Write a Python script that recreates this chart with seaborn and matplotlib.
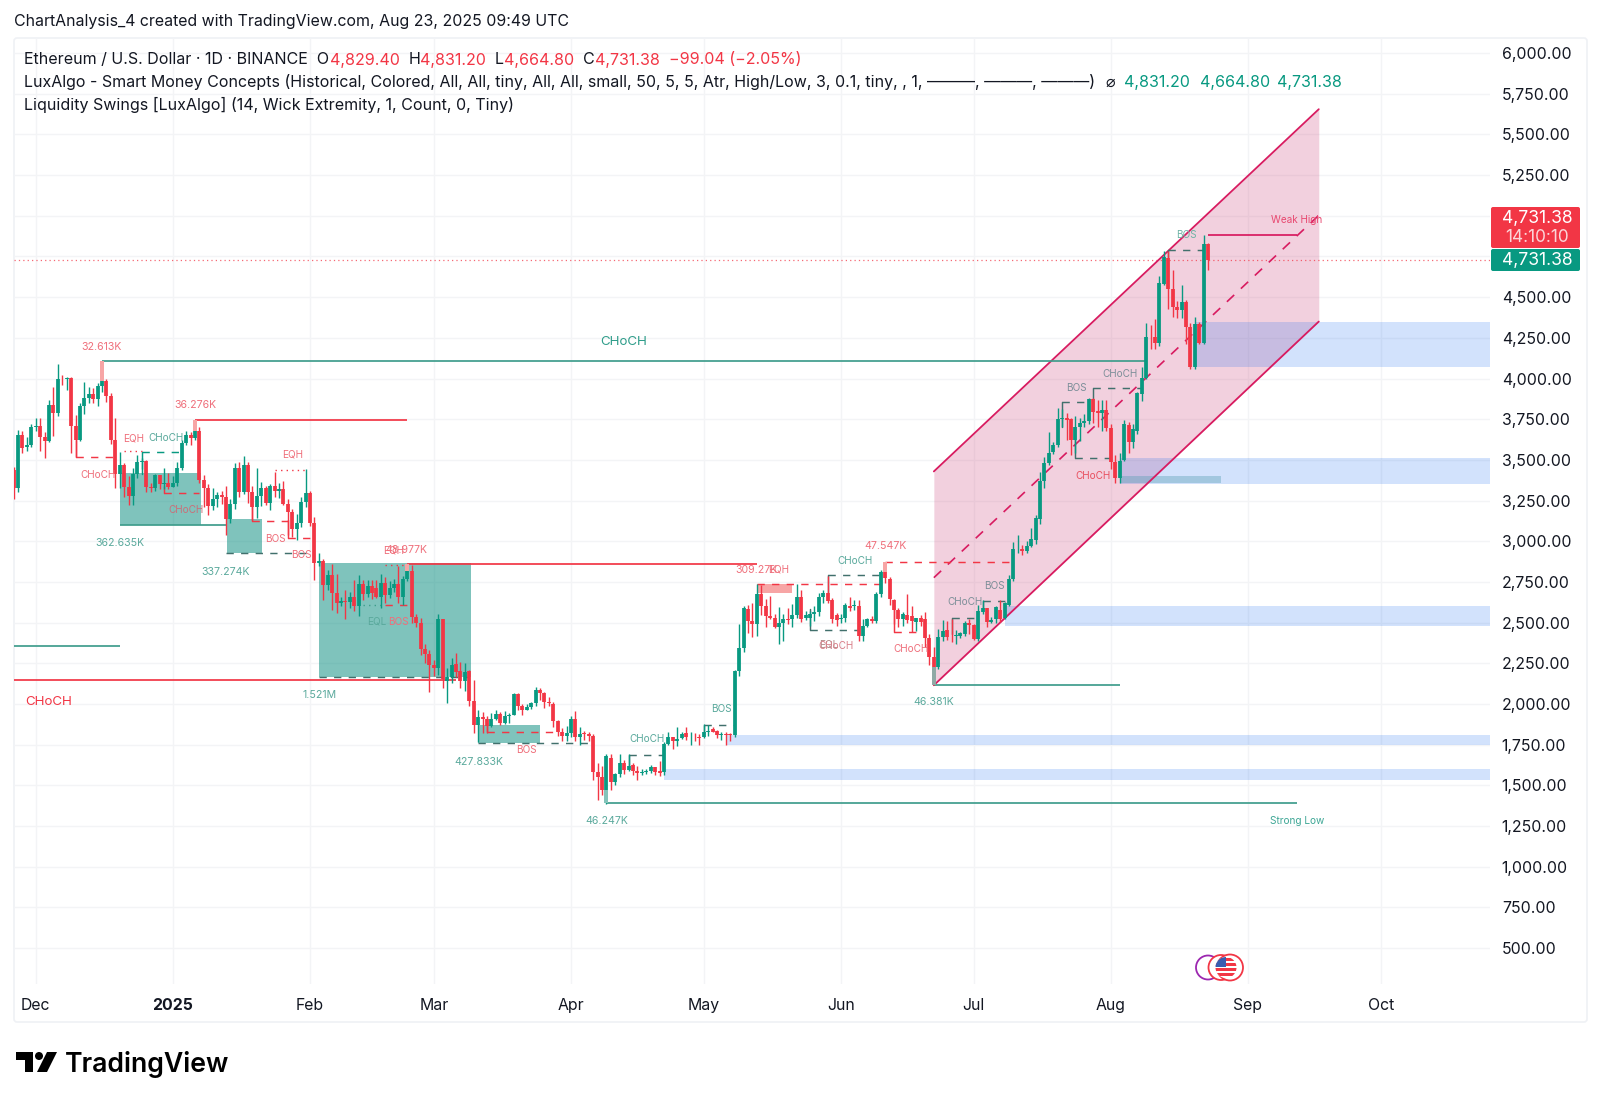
import pandas as pd
import seaborn as sns
import matplotlib.pyplot as plt
from matplotlib.patches import Rectangle, Circle, FancyBboxPatch, Polygon

# Daily candles: open, high, low, close
nov = [(3440,3455,3260,3325),(3325,3683,3300,3650),(3650,3680,3540,3575),(3580,3640,3555,3590),(3590,3720,3580,3700)]
dec = [(3700,3760,3680,3710),(3710,3755,3555,3640),(3640,3670,3510,3615),(3615,3870,3610,3835),(3835,3945,3645,3785),
       (3785,4090,3770,4000),(4000,4020,3960,3995),(3995,4010,3930,4005),(4005,4010,3540,3710),(3710,3775,3517,3625),
       (3625,3850,3615,3830),(3830,3980,3780,3880),(3880,3950,3850,3905),(3905,3940,3850,3875),(3875,3970,3830,3955),
       (3955,4107,3920,3985),(3985,4000,3855,3890),(3890,3910,3600,3625),(3625,3757,3330,3415),(3415,3550,3330,3468),
       (3468,3480,3270,3333),(3333,3400,3222,3277),(3277,3450,3220,3412),(3412,3530,3390,3487),(3487,3510,3445,3495),
       (3495,3500,3300,3335),(3335,3360,3300,3330),(3330,3415,3310,3405),(3405,3410,3320,3350),(3350,3450,3320,3360),
       (3360,3420,3320,3335)]
jan = [(3335,3400,3335,3355),(3355,3490,3340,3450),(3450,3620,3440,3603),(3603,3680,3590,3650),(3650,3670,3590,3635),
       (3635,3745,3620,3680),(3680,3700,3360,3378),(3378,3410,3210,3327),(3327,3350,3160,3218),(3218,3325,3190,3262),
       (3262,3300,3210,3285),(3285,3310,3230,3270),(3270,3340,3040,3135),(3135,3260,3115,3228),(3228,3480,3200,3450),
       (3450,3490,3272,3303),(3303,3525,3290,3468),(3468,3490,3235,3303),(3303,3340,3130,3210),(3210,3450,3140,3275),
       (3275,3365,3215,3327),(3327,3340,3225,3235),(3235,3350,3190,3340),(3340,3425,3270,3308),(3308,3360,3265,3318),
       (3318,3370,3225,3228),(3228,3260,3040,3180),(3180,3200,3025,3075),(3075,3165,3010,3110),(3110,3270,3090,3243),
       (3243,3443,3210,3295)]
feb = [(3295,3310,3095,3110),(3110,3150,2760,2868),(2868,2925,2850,2880),(2880,2890,2640,2730),(2730,2825,2700,2790),
       (2790,2860,2580,2680),(2680,2800,2560,2620),(2620,2660,2600,2635),(2635,2700,2520,2625),(2625,2690,2590,2660),
       (2660,2760,2570,2600),(2600,2790,2540,2735),(2735,2760,2640,2675),(2675,2760,2660,2725),(2725,2760,2645,2680),
       (2715,2760,2650,2660),(2660,2800,2590,2745),(2745,2780,2620,2670),(2670,2755,2650,2715),(2715,2770,2690,2740),
       (2740,2850,2620,2660),(2660,2785,2610,2770),(2770,2850,2755,2820),(2820,2855,2495,2535),(2535,2550,2470,2495),
       (2495,2530,2300,2340),(2340,2370,2250,2305),(2305,2330,2075,2240)]
mar = [(2240,2270,2170,2220),(2220,2550,2175,2520),(2520,2525,2095,2155),(2140,2220,2005,2165),(2165,2285,2130,2240),
       (2245,2315,2165,2195),(2200,2260,2100,2140),(2140,2250,2080,2195),(2205,2210,1990,2020),(2020,2150,1820,1870),
       (1870,1965,1765,1920),(1920,1950,1820,1908),(1908,1925,1820,1865),(1865,1945,1860,1905),(1910,1960,1900,1940),
       (1940,1950,1870,1885),(1885,1955,1875,1925),(1925,1945,1885,1932),(1935,2065,1930,2060),(2060,2070,1960,1985),
       (1985,2000,1930,1965),(1965,2000,1965,1980),(1980,2010,1970,2005),(2005,2105,1990,2085),(2085,2095,2025,2065),
       (2065,2075,1975,2010),(2010,2040,1985,2005),(2000,2015,1860,1895),(1895,1900,1805,1825),(1825,1850,1770,1805),
       (1805,1865,1770,1820)]
apr = [(1820,1925,1800,1905),(1905,1955,1775,1795),(1795,1860,1750,1815),(1820,1835,1780,1815),(1815,1830,1770,1805),
       (1805,1815,1535,1580),(1580,1640,1410,1550),(1550,1620,1440,1470),(1470,1690,1385,1680),(1670,1690,1470,1520),
       (1520,1575,1505,1570),(1570,1690,1550,1640),(1640,1655,1570,1595),(1595,1690,1590,1620),(1625,1640,1565,1585),
       (1585,1620,1535,1575),(1575,1600,1565,1583),(1583,1600,1570,1587),(1587,1625,1575,1610),(1610,1615,1565,1580),
       (1585,1650,1560,1578),(1580,1765,1565,1755),(1755,1830,1745,1795),(1795,1800,1725,1770),(1770,1860,1740,1785),
       (1790,1830,1785,1815),(1820,1860,1780,1795),(1795,1830,1745,1798),(1800,1820,1770,1795),(1797,1815,1750,1793)]
may = [(1795,1875,1790,1830),(1830,1870,1805,1835),(1845,1860,1825,1825),(1835,1840,1790,1810),(1810,1830,1780,1815),
       (1815,1830,1750,1810),(1815,1820,1775,1810),(1810,2210,1800,2205),(2205,2490,2170,2345),(2345,2600,2320,2590),
       (2585,2610,2435,2510),(2510,2620,2410,2490),(2490,2735,2420,2675),(2675,2730,2545,2600),(2600,2645,2470,2540),
       (2540,2665,2525,2530),(2530,2555,2465,2475),(2475,2595,2370,2495),(2495,2550,2385,2520),(2525,2590,2490,2515),
       (2520,2615,2470,2545),(2545,2735,2530,2655),(2655,2700,2505,2520),(2530,2570,2515,2545),(2530,2570,2480,2550),
       (2550,2600,2510,2565),(2565,2680,2540,2660),(2660,2700,2620,2680),(2680,2785,2620,2630),(2640,2650,2500,2520),
       (2545,2560,2480,2515)]
jun = [(2522,2550,2495,2530),(2530,2620,2505,2610),(2600,2655,2570,2590),(2600,2640,2580,2610),(2600,2640,2385,2415),
       (2420,2525,2385,2480),(2480,2530,2475,2520),(2520,2540,2495,2510),(2510,2690,2495,2675),(2675,2825,2660,2810),
       (2810,2875,2745,2775),(2770,2780,2610,2645),(2640,2645,2490,2575),(2575,2590,2475,2525),(2525,2565,2480,2550),
       (2545,2675,2495,2515),(2540,2600,2445,2510),(2505,2530,2450,2530),(2530,2545,2480,2505),(2520,2565,2350,2405),
       (2405,2430,2240,2290),(2290,2350,2115,2225),(2225,2460,2215,2410),(2410,2515,2385,2450),(2455,2510,2395,2410),
       (2420,2520,2380,2415),(2415,2455,2370,2425),(2415,2440,2405,2435),(2430,2510,2420,2495),(2495,2520,2430,2485)]
jul = [(2485,2490,2395,2400),(2400,2610,2385,2570),(2565,2640,2555,2590),(2590,2590,2475,2505),(2505,2535,2495,2515),
       (2520,2600,2500,2595),(2580,2640,2505,2520),(2530,2625,2520,2620),(2610,2795,2600,2770),(2770,2995,2755,2950),
       (2950,3040,2925,2955),(2955,2975,2915,2940),(2942,3000,2930,2970),(2970,3080,2965,3011),(3007,3160,2980,3140),
       (3134,3423,3105,3370),(3370,3520,3325,3478),(3478,3673,3470,3544),(3550,3610,3535,3591),(3591,3817,3581,3751),
       (3750,3815,3705,3760),(3760,3790,3625,3748),(3750,3760,3530,3625),(3622,3770,3540,3704),(3704,3760,3615,3724),
       (3724,3780,3700,3741),(3739,3880,3720,3872),(3872,3880,3724,3796),(3800,3870,3700,3790),(3790,3870,3680,3806),
       (3806,3870,3680,3694)]
aug = [(3694,3720,3445,3489),(3489,3530,3355,3386),(3386,3545,3355,3495),(3499,3745,3495,3720),(3714,3730,3545,3612),
       (3612,3720,3575,3687),(3680,3920,3660,3909),(3905,4073,3860,4005),(4005,4340,4000,4257),(4258,4329,4180,4255),
       (4253,4363,4180,4220),(4220,4630,4200,4585),(4580,4785,4575,4745),(4738,4785,4430,4548),(4548,4667,4380,4437),
       (4437,4475,4370,4421),(4421,4575,4370,4472),(4472,4480,4210,4314),(4314,4340,4060,4073),(4073,4380,4060,4335),
       (4335,4350,4210,4216),(4216,4882,4210,4827),(4829.40,4831.20,4664.80,4731.38)]

# axis ticks, day 0 is Dec 1
month_days = [0, 31, 62, 90, 121, 151, 182, 212, 243, 274, 304]
month_labels = ['Dec', '2025', 'Feb', 'Mar', 'Apr', 'May', 'Jun', 'Jul', 'Aug', 'Sep', 'Oct']
price_ticks = list(range(500, 6001, 250))

# channel: first day, last day, low/mid/high price on both ends
channel_days = [203, 290]
channel_low = [2115, 4350]
channel_mid = [2776, 5003]
channel_high = [3429, 5655]

# day from, price low, price high (all run out to the right edge)
blue_zones = [(262, 4068, 4350), (245, 3350, 3510), (219, 2480, 2600), (156, 1750, 1810), (142, 1530, 1600)]
# day from, day to, price low, price high
green_boxes = [(19, 37.4, 3098, 3417), (43.3, 51.1, 2928, 3136), (64, 98.4, 2165, 2866), (100, 114, 1760, 1870)]
wick_marks = [(15, 3985, 4105, '#f7a5a5'), (36, 3680, 3745, '#f7a5a5'), (84, 2820, 2858, '#f7a5a5'),
              (192, 2810, 2875, '#f7a5a5'), (129, 1390, 1470, '#84c4ba'), (203, 2115, 2225, '#8fa9a5')]

RED = '#f23645'
GREEN = '#089981'
TEAL = '#3f9d8c'
DARK = '#41706c'
CRIMSON = '#d81b60'

# solid levels: day from, day to, price, colour
levels = [(15, 251, 4105, TEAL), (-5, 19, 2358, TEAL), (19, 43, 3098, TEAL), (-5, 95, 2150, RED), (36, 84, 3742, RED),
          (84, 163, 2858, RED), (203, 245, 2115, TEAL), (129, 285, 1390, TEAL), (265, 285, 4884, CRIMSON)]
# dashed structure breaks
breaks = [(9, 18, 3520, RED), (24, 33, 3548, GREEN), (29, 37, 3298, RED), (49, 57, 3126, RED), (57, 62, 3020, RED),
          (43, 61, 2928, DARK), (79, 84, 2608, RED), (64, 98, 2165, DARK), (102, 117, 1830, RED), (100, 125, 1760, DARK),
          (134, 142, 1685, DARK), (151, 158, 1870, DARK), (163, 191, 2735, RED), (179, 191, 2790, DARK),
          (175, 186, 2455, DARK), (194, 199, 2440, RED), (192, 220, 2875, RED), (207, 212, 2530, DARK),
          (214, 219, 2635, DARK), (232, 238, 3857, DARK), (239, 250, 3941, DARK), (235, 243, 3513, DARK), (256, 265, 4790, DARK)]
# dotted equal highs / lows
dots = [(20, 24, 3552, RED), (54, 61, 3437, RED), (79, 84, 2855, RED), (74, 79, 2608, TEAL)]
# short uprights at the start of a break: day, price from, price to, colour
brackets = [(9, 3520, 3620, RED), (24, 3548, 3415, GREEN), (29, 3298, 3340, RED), (49, 3126, 3300, RED),
            (57, 3020, 3130, RED), (102, 1830, 1880, RED), (134, 1685, 1620, DARK), (151, 1870, 1820, DARK),
            (179, 2790, 2680, DARK), (175, 2455, 2585, DARK), (194, 2440, 2610, RED), (207, 2530, 2430, DARK),
            (214, 2635, 2580, DARK), (232, 3857, 3700, DARK), (239, 3941, 3800, DARK), (235, 3513, 3700, DARK),
            (256, 4790, 4740, DARK)]

PINK = '#ef6f7b'
MINT = '#5aa99c'
GREY = '#7d8f99'
# text, day, price, colour, font size
labels = [('32.613K', 15, 4192, PINK, 7.6), ('36.276K', 36, 3835, PINK, 7.6), ('362.635K', 19.1, 2988, MINT, 7.6),
          ('337.274K', 42.9, 2812, MINT, 7.6), ('1.521M', 64.1, 2053, MINT, 7.6), ('427.833K', 100.1, 1646, MINT, 7.6),
          ('46.247K', 129, 1282, MINT, 7.6), ('46.381K', 203, 2010, MINT, 7.6), ('47.547K', 192, 2969, PINK, 7.6),
          ('309.27K', 162.9, 2825, PINK, 7.6), ('EQH', 168, 2825, PINK, 7.2), ('48.977K', 83.7, 2944, PINK, 7.6),
          ('EQH', 81, 2944, PINK, 7.2), ('EQL', 77, 2505, MINT, 7.2), ('BOS', 82.1, 2505, PINK, 7.2),
          ('EQH', 22.1, 3634, PINK, 7.2), ('CHoCH', 29.5, 3634, MINT, 7.2), ('CHoCH', 14.1, 3408, PINK, 7.2),
          ('CHoCH', 33.9, 3189, '#c9707a', 7.2), ('EQH', 58.1, 3534, PINK, 7.2), ('BOS', 54.2, 3013, PINK, 7.2),
          ('BOS', 60, 2913, PINK, 7.2), ('BOS', 111, 1715, PINK, 7.2), ('BOS', 155, 1966, MINT, 7.2),
          ('CHoCH', 138.2, 1784, MINT, 7.2), ('EQL', 179.2, 2367, '#b08a88', 7.2), ('CHoCH', 180.9, 2355, '#d9808a', 7.2),
          ('CHoCH', 185.2, 2881, MINT, 7.2), ('CHoCH', 197.9, 2336, PINK, 7.2), ('CHoCH', 210.1, 2624, GREY, 7.2),
          ('BOS', 216.8, 2725, GREY, 7.2), ('BOS', 235.3, 3941, GREY, 7.2), ('CHoCH', 245, 4029, GREY, 7.2),
          ('CHoCH', 239, 3402, '#e8505f', 7.2), ('BOS', 260, 4882, '#6fb3a6', 7.2), ('Weak High', 285.1, 4976, '#e8476f', 7.2),
          ('Strong Low', 285.1, 1282, '#3fa796', 7.3), ('CHoCH', 132.9, 4223, '#2f9d8a', 9.6), ('CHoCH', 3, 2010, RED, 9.6)]

sns.set_theme(style='white')
plt.rcParams['font.family'] = ['Inter', 'DejaVu Sans']

candles = pd.DataFrame(nov + dec + jan + feb + mar + apr + may + jun + jul + aug,
                       columns=['open', 'high', 'low', 'close'])
candles['day'] = range(-5, len(candles) - 5)
candles['side'] = ['up' if c >= o else 'down' for o, c in zip(candles['open'], candles['close'])]

wicks = candles.melt(id_vars=['day', 'side'], value_vars=['high', 'low'], value_name='price')
bodies = candles.melt(id_vars=['day', 'side'], value_vars=['open', 'close'], value_name='price')

fig = plt.figure(figsize=(16, 11.02), dpi=100, facecolor='white')
W, H = 1600, 1102
ax = fig.add_axes([14 / W, 1 - 984 / H, (1490 - 14) / W, (984 - 38) / H], facecolor='none', zorder=2)

# candles
palette = {'up': GREEN, 'down': RED}
sns.lineplot(data=wicks, x='day', y='price', units='day', hue='side', palette=palette, estimator=None,
             sort=False, legend=False, linewidth=1.0, solid_capstyle='butt', zorder=5, ax=ax)
sns.lineplot(data=bodies, x='day', y='price', units='day', hue='side', palette=palette, estimator=None,
             sort=False, legend=False, linewidth=2.7, solid_capstyle='butt', zorder=5, ax=ax)

# channel
ax.fill_between(channel_days, channel_low, channel_high, color='#c2185b', alpha=0.2, lw=0, zorder=1)
ax.plot(channel_days, channel_low, color=CRIMSON, lw=1.3, zorder=4)
ax.plot(channel_days, channel_high, color=CRIMSON, lw=1.3, zorder=4)
ax.plot(channel_days, channel_mid, color=CRIMSON, lw=1.2, ls=(0, (6, 5.5)), zorder=4)

for start, low, high in blue_zones:
    ax.fill_between([start, 328.7], low, high, color='#1e6ff0', alpha=0.2, lw=0, zorder=1)
ax.fill_between([245, 268], 3360, 3400, color='#5b9fb5', alpha=0.4, lw=0, zorder=2)
for start, end, low, high in green_boxes:
    ax.fill_between([start, end], low, high, color='#00897b', alpha=0.5, lw=0, zorder=1)
ax.fill_between([163, 171], 2680, 2735, color='#f7a5a5', lw=0, zorder=3)
for day, low, high, colour in wick_marks:
    ax.fill_between([day - 0.45, day + 0.45], low, high, color=colour, lw=0, zorder=6)

for start, end, price, colour in levels:
    ax.plot([start, end], [price, price], color=colour, lw=1.25, solid_capstyle='butt', zorder=4)
for start, end, price, colour in breaks:
    ax.plot([start, end], [price, price], color=colour, lw=1.05, ls=(0, (5, 5)), zorder=4)
for start, end, price, colour in dots:
    ax.plot([start, end], [price, price], color=colour, lw=1.0, ls=(0, (1, 3)), zorder=4)
for day, start, end, colour in brackets:
    ax.plot([day, day], [start, end], color=colour, lw=1.05, zorder=4)

ax.axhline(candles['close'].iloc[-1], color=RED, lw=0.9, ls=(0, (1, 2.5)), alpha=0.75, zorder=3)

for text, day, price, colour, size in labels:
    ax.text(day, price, text, color=colour, fontsize=size, ha='center', va='center', zorder=7)

ax.set_xlim(-4.9, 328.7)
ax.set_ylim(279, 6092.6)
ax.set_xlabel('')
ax.set_ylabel('')
ax.set_xticks(month_days)
ax.set_xticklabels(month_labels, fontsize=11.4, color='#131722')
ax.get_xticklabels()[1].set_fontweight('bold')
ax.yaxis.tick_right()
ax.set_yticks(price_ticks)
ax.set_yticklabels(['' if p in (4750, 5000) else f'{p:,.2f}' for p in price_ticks], fontsize=11.4, color='#131722')
ax.tick_params(axis='x', length=0, pad=10.3)
ax.tick_params(axis='y', length=0, pad=8.5)
ax.grid(True, color='#f3f4f6', lw=1.0, zorder=0)
ax.set_axisbelow(True)
sns.despine(ax=ax, left=True, right=True, top=True, bottom=True)

# frame, header, price tags and logo drawn in pixel coordinates
chrome = fig.add_axes([0, 0, 1, 1], facecolor='none', zorder=3)
chrome.set_xlim(0, W)
chrome.set_ylim(H, 0)
chrome.axis('off')

back = fig.add_axes([0, 0, 1, 1], facecolor='none', zorder=1)
back.set_xlim(0, W)
back.set_ylim(H, 0)
back.axis('off')
back.add_patch(FancyBboxPatch((14, 38), 1573, 984, boxstyle='round,pad=0,rounding_size=3',
                              fc='white', ec='#eff1f5', lw=1.2))


def text_run(x, y, runs, size=11.55):
    renderer = fig.canvas.get_renderer()
    for content, colour in runs:
        t = chrome.text(x, y, content, color=colour, fontsize=size, ha='left', va='center')
        x = t.get_window_extent(renderer).x1


INK = '#131722'
chrome.text(14, 21.5, 'ChartAnalysis_4 created with TradingView.com, Aug 23, 2025 09:49 UTC',
            color=INK, fontsize=11.45, ha='left', va='center')
text_run(24.5, 60, [('Ethereum / U.S. Dollar · 1D · BINANCE  O', INK), ('4,829.40', RED), ('  H', INK), ('4,831.20', RED),
                    ('  L', INK), ('4,664.80', RED), ('  C', INK), ('4,731.38', RED), ('  −99.04 (−2.05%)', RED)])
chrome.text(24.5, 82.5, 'LuxAlgo - Smart Money Concepts (Historical, Colored, All, All, tiny, All, All, small, 50, 5, 5, '
            'Atr, High/Low, 3, 0.1, tiny, , 1, ———, ———, ———)', color=INK, fontsize=11.53, ha='left', va='center')
chrome.text(1110, 82.5, '⌀', color=INK, fontsize=11.4, ha='center', va='center')
for x, value in zip([1124, 1200, 1277], ['4,831.20', '4,664.80', '4,731.38']):
    chrome.text(x, 82.5, value, color=GREEN, fontsize=11.55, ha='left', va='center')
chrome.text(24.5, 105, 'Liquidity Swings [LuxAlgo] (14, Wick Extremity, 1, Count, 0, Tiny)',
            color=INK, fontsize=11.55, ha='left', va='center')

chrome.add_patch(FancyBboxPatch((1491, 207), 89, 41, boxstyle='round,pad=0,rounding_size=2', fc=RED, ec='none'))
chrome.add_patch(FancyBboxPatch((1491, 249), 89, 22, boxstyle='round,pad=0,rounding_size=2', fc=GREEN, ec='none'))
chrome.text(1537, 218, '4,731.38', color='white', fontsize=12.6, ha='center', va='center')
chrome.text(1537, 237, '14:10:10', color='#fbd5d8', fontsize=12.4, ha='center', va='center')
chrome.text(1537, 260.5, '4,731.38', color='white', fontsize=12.6, ha='center', va='center')

# event icons
chrome.add_patch(Circle((1208, 967.5), 12, fc='white', ec='#9c27b0', lw=1.3))
chrome.add_patch(Circle((1221, 967.5), 12.5, fc='white', ec=RED, lw=1.3))
outer = Circle((1230, 967.5), 13, fc='white', ec=RED, lw=1.3)
chrome.add_patch(outer)
disc = Circle((1226, 967.5), 10.5, fc='white', ec='none')
chrome.add_patch(disc)
for top in [958, 963, 968, 973]:
    stripe = Rectangle((1214, top), 26, 2.6, fc=RED, ec='none')
    chrome.add_patch(stripe)
    stripe.set_clip_path(disc)
canton = Rectangle((1214, 956), 12, 11, fc='#3a5db0', ec='none')
chrome.add_patch(canton)
canton.set_clip_path(disc)

# logo
chrome.add_patch(Polygon([(16, 1052), (33, 1052), (33, 1072), (25, 1072), (25, 1060), (16, 1060)], fc='black', ec='none'))
chrome.add_patch(Circle((39, 1056), 4, fc='black', ec='none'))
chrome.add_patch(Polygon([(47, 1052), (57, 1052), (47, 1072), (37, 1072)], fc='black', ec='none'))
chrome.text(65, 1064, 'TradingView', color='black', fontsize=19.2, fontweight='semibold', ha='left', va='center')

plt.savefig('out.png', dpi=100, facecolor='white')
